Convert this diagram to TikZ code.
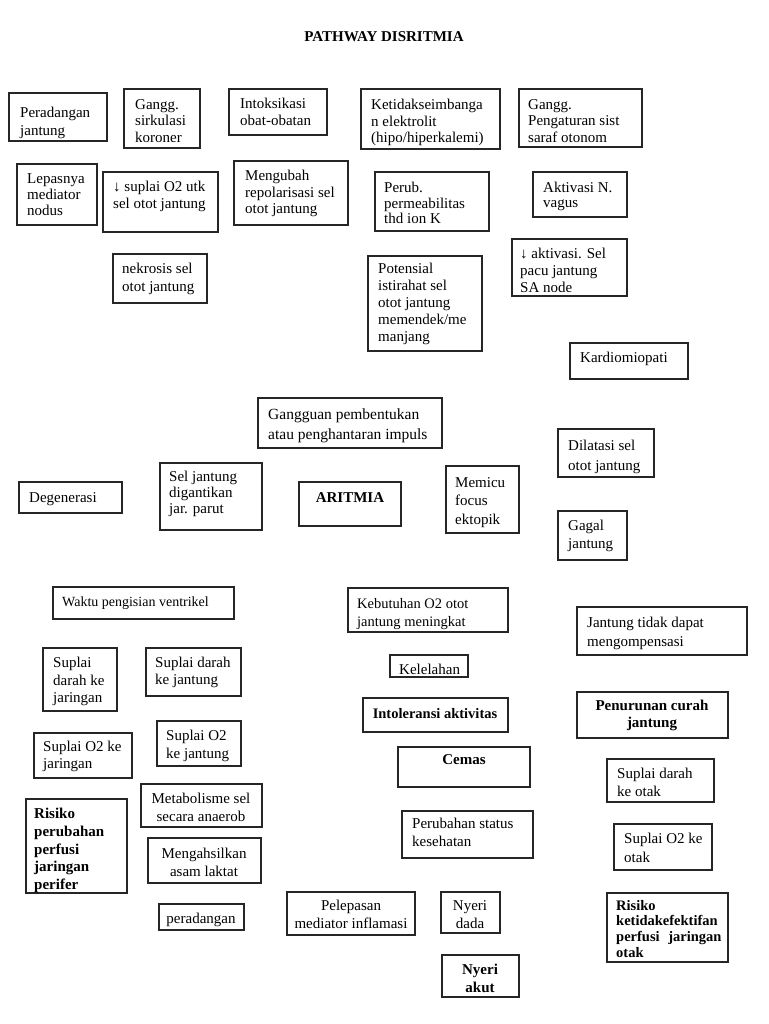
\documentclass[tikz,border=0pt]{standalone}
\usepackage{fontspec}
\setmainfont{Liberation Serif}
\newcommand\fs[2]{\fontsize{#1}{#2}\selectfont}
\newcommand\bx[5]{\node[box,minimum width={#4-#2},minimum height={#5-#3}] (#1) at (#2,#3) {};}
\begin{document}
\begin{tikzpicture}[x=1pt,y=-1pt,
  box/.style={draw=black!85,line width=1.05pt,anchor=north west,inner sep=0pt,outer sep=0pt},
  txt/.style={inner sep=0pt,anchor=north west,align=left,yshift=-2pt,font=\fs{15}{17}},
  ctxt/.style={inner sep=0pt,anchor=north,align=center,yshift=-2pt,font=\fs{15}{17}},
  titlestyle/.style={inner sep=0pt,font=\fs{15}{17}\bfseries}]
\fill[white] (0,0) rectangle (768,1024);
\useasboundingbox (0,0) rectangle (768,1024);

\node[titlestyle] (title) at (384,37) {PATHWAY DISRITMIA};

% boxes
\bx{perad}{9}{93}{107}{141}
\bx{sirk}{124}{89}{200}{148}
\bx{intok}{229}{89}{327}{135}
\bx{elek}{361}{89}{500}{149}
\bx{saraf}{519}{89}{642}{147}
\bx{lepas}{17}{164}{97}{225}
\bx{suplai}{103}{172}{218}{232}
\bx{repol}{234}{161}{348}{225}
\bx{perm}{375}{172}{489}{231}
\bx{vagus}{533}{172}{627}{217}
\bx{nekro}{113}{254}{207}{303}
\bx{sa}{512}{239}{627}{296}
\bx{poten}{368}{256}{482}{351}
\bx{kardio}{570}{343}{688}{379}
\bx{gangg}{258}{398}{442}{448}
\bx{degen}{19}{482}{122}{513}
\bx{sel}{160}{463}{262}{530}
\bx{arit}{299}{482}{401}{526}
\bx{memicu}{446}{466}{519}{533}
\bx{dilat}{558}{429}{654}{477}
\bx{gagal}{558}{511}{627}{560}
\bx{waktu}{53}{587}{234}{619}
\bx{sdjar}{43}{648}{117}{711}
\bx{sdjan}{146}{648}{241}{696}
\bx{sojar}{34}{733}{132}{778}
\bx{sojan}{157}{721}{241}{766}
\bx{risper}{26}{799}{127}{893}
\bx{metab}{141}{784}{262}{827}
\bx{mengah}{148}{838}{261}{883}
\bx{perad2}{159}{904}{244}{930}
\bx{kebut}{348}{588}{508}{632}
\bx{jtd}{577}{607}{747}{655}
\bx{kelel}{390}{655}{468}{677}
\bx{intol}{363}{698}{508}{732}
\bx{penur}{577}{692}{728}{738}
\bx{cemas}{398}{747}{530}{787}
\bx{sdotak}{607}{759}{714}{802}
\bx{perub}{402}{811}{533}{858}
\bx{sootak}{614}{824}{712}{870}
\bx{pelep}{287}{892}{415}{935}
\bx{nyeri}{441}{892}{500}{933}
\bx{risotak}{607}{893}{728}{962}
\bx{nyak}{442}{955}{519}{997}

% texts
\node[txt,font=\fs{15}{18}] (perad-t) at (20,105) {Peradangan\\jantung};
\node[txt,font=\fs{15}{16.5}] (sirk-t) at (135,97) {Gangg.\\sirkulasi\\koroner};
\node[txt] (intok-t) at (240,96) {Intoksikasi\\obat-obatan};
\node[txt,font=\fs{15}{16.5}] (elek-t) at (371,97) {Ketidakseimbanga\\n elektrolit\\(hipo/hiperkalemi)};
\node[txt,font=\fs{15}{16.5}] (saraf-t) at (528,97) {Gangg.\\Pengaturan sist\\saraf otonom};
\node[txt,font=\fs{15}{16}] (lepas-t) at (27,171) {Lepasnya\\mediator\\nodus};
\node[txt] (suplai-t) at (113,179) {↓ suplai O2 utk\\sel otot jantung};
\node[txt,font=\fs{15}{16.5}] (repol-t) at (245,168) {Mengubah\\repolarisasi sel\\otot jantung};
\node[txt,font=\fs{15}{15.5}] (perm-t) at (384,180) {Perub.\\permeabilitas\\thd ion K};
\node[txt,font=\fs{15}{15}] (vagus-t) at (543,180) {Aktivasi N.\\vagus};
\node[txt,font=\fs{15}{18}] (nekro-t) at (122,261) {nekrosis sel\\otot jantung};
\node[txt] (sa-t) at (520,246) {↓ aktivasi. Sel\\pacu jantung\\SA node};
\node[txt] (poten-t) at (378,261) {Potensial\\istirahat sel\\otot jantung\\memendek/me\\manjang};
\node[txt] (kardio-t) at (580,350) {Kardiomiopati};
\node[txt,font=\fs{15.5}{20}] (gangg-t) at (268,407) {Gangguan pembentukan\\atau penghantaran impuls};
\node[txt] (degen-t) at (29,490) {Degenerasi};
\node[txt,font=\fs{15}{16}] (sel-t) at (169,469) {Sel jantung\\digantikan\\jar. parut};
\node[ctxt,font=\fs{15}{17}\bfseries] (arit-t) at (350,490) {ARITMIA};
\node[txt,font=\fs{15}{18.5}] (memicu-t) at (455,475) {Memicu\\focus\\ektopik};
\node[txt,font=\fs{15}{20}] (dilat-t) at (568,438) {Dilatasi sel\\otot jantung};
\node[txt,font=\fs{15}{18}] (gagal-t) at (568,518) {Gagal\\jantung};
\node[txt,font=\fs{14}{17}] (waktu-t) at (62,595) {Waktu pengisian ventrikel};
\node[txt,font=\fs{15}{17.5}] (sdjar-t) at (53,655) {Suplai\\darah ke\\jaringan};
\node[txt] (sdjan-t) at (155,655) {Suplai darah\\ke jantung};
\node[txt] (sojar-t) at (43,739) {Suplai O2 ke\\jaringan};
\node[txt,font=\fs{15}{18}] (sojan-t) at (166,728) {Suplai O2\\ke jantung};
\node[txt,font=\fs{15}{17.7}\bfseries] (risper-t) at (34,806) {Risiko\\perubahan\\perfusi\\jaringan\\perifer};
\node[ctxt,font=\fs{15}{18}] (metab-t) at (201,791) {Metabolisme sel\\secara anaerob};
\node[ctxt,font=\fs{15}{18}] (mengah-t) at (204,846) {Mengahsilkan\\asam laktat};
\node[ctxt] (perad2-t) at (201,911) {peradangan};
\node[txt,font=\fs{14.5}{18}] (kebut-t) at (357,596) {Kebutuhan O2 otot\\jantung meningkat};
\node[txt,font=\fs{15}{19}] (jtd-t) at (587,615) {Jantung tidak dapat\\mengompensasi};
\node[txt] (kelel-t) at (399,662) {Kelelahan};
\node[ctxt,font=\fs{14.5}{17}\bfseries] (intol-t) at (435,706) {Intoleransi aktivitas};
\node[ctxt,font=\fs{15}{17}\bfseries] (penur-t) at (652,698) {Penurunan curah\\jantung};
\node[ctxt,font=\fs{15}{17}\bfseries] (cemas-t) at (464,752) {Cemas};
\node[txt,font=\fs{15}{18}] (sdotak-t) at (617,766) {Suplai darah\\ke otak};
\node[txt,font=\fs{15}{18}] (perub-t) at (412,816) {Perubahan status\\kesehatan};
\node[txt,font=\fs{15}{19}] (sootak-t) at (624,831) {Suplai O2 ke\\otak};
\node[ctxt,font=\fs{15}{18}] (pelep-t) at (351,898) {Pelepasan\\mediator inflamasi};
\node[ctxt,font=\fs{15}{18}] (nyeri-t) at (470,898) {Nyeri\\dada};
\node[txt,font=\fs{14.5}{15.6}\bfseries] (risotak-t) at (616,898) {Risiko\\ketidakefektifan\\perfusi\hspace{5pt} jaringan\\otak};
\node[ctxt,font=\fs{15}{18}\bfseries] (nyak-t) at (480,962) {Nyeri\\akut};
\end{tikzpicture}
\end{document}
